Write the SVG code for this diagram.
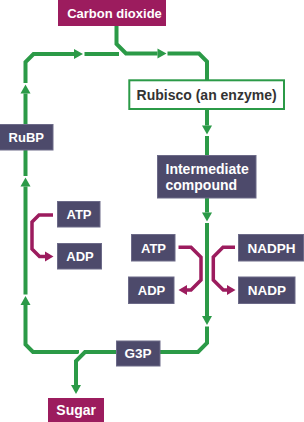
<svg xmlns="http://www.w3.org/2000/svg" width="304" height="422" viewBox="0 0 304 422">
<style>
.bg{fill:#ffffff}
.dk{fill:#4d4a6b;stroke:#6c6a88;stroke-width:1}
.mg{fill:#9c1c5e}
.rub{fill:#ffffff;stroke:#2b9a47;stroke-width:2}
.g{fill:none;stroke:#2b9a47;stroke-width:4;stroke-linejoin:miter}
.gw{fill:none;stroke:#ffffff;stroke-width:7}
.m{fill:none;stroke:#9c1c5e;stroke-width:3.5;stroke-linejoin:miter}
text{font-family:"Liberation Sans",Arial,sans-serif;font-weight:bold;font-size:13.5px;fill:#ffffff;text-anchor:middle}
.t13{font-size:13px}
.t14{font-size:14px}
.dt{fill:#333333}
.left{text-anchor:start}
</style>
<defs>
<marker id="ag" markerUnits="userSpaceOnUse" markerWidth="10" markerHeight="11" refX="0" refY="5" orient="auto" overflow="visible">
<path d="M0,0 L9,5 L0,10 Z" fill="#2b9a47"/>
</marker>
<marker id="am" markerUnits="userSpaceOnUse" markerWidth="10" markerHeight="11" refX="0" refY="5" orient="auto" overflow="visible">
<path d="M0,0 L8.5,5 L0,10 Z" fill="#9c1c5e"/>
</marker>
</defs>
<rect class="bg" x="0" y="0" width="304" height="422"/>
<g id="connectors">
<path class="g" d="M79,352 H33 L25.5,344.5 V305" marker-end="url(#ag)"/>
<path class="g" d="M25.5,294.5 V186.5" marker-end="url(#ag)"/>
<path class="g" d="M25.5,176 V93.5" marker-end="url(#ag)"/>
<path class="g" d="M25.5,83 V62 L33.5,54 H74" marker-end="url(#ag)"/>
<path class="g" d="M84.5,54 H119"/>
<path class="gw" d="M116.5,40 V44 L125.5,53.5"/>
<path class="g" d="M116.5,26 V44 L126,53.5 H157.5" marker-end="url(#ag)"/>
<path class="g" d="M167.5,53.5 H199 L207,61.5 V80"/>
<path class="g" d="M207,110 V125.5" marker-end="url(#ag)"/>
<path class="g" d="M207,136 V155"/>
<path class="g" d="M207,198 V212.5" marker-end="url(#ag)"/>
<path class="g" d="M207,223 V316" marker-end="url(#ag)"/>
<path class="g" d="M207,326.5 V343 L198,352 H160"/>
<path class="gw" d="M85,352 L76,361"/>
<path class="g" d="M116,352 H85 L76,361 V385" marker-end="url(#ag)"/>
<path class="m" d="M53,215 H39 L32,222 V249 L39.5,256.5 H45" marker-end="url(#am)"/>
<path class="m" d="M178.5,247.3 H191 L201,257.3 V280 L191,290 H187" marker-end="url(#am)"/>
<path class="m" d="M235,247.3 H223 L213.3,257 V280 L223.3,290 H227" marker-end="url(#am)"/>
</g>
<g id="carbon-dioxide"><rect class="mg" x="58" y="0" width="108" height="26"/><text class="t13" x="114.5" y="18">Carbon dioxide</text></g>
<g id="rubisco"><rect class="rub" x="129.3" y="80.3" width="154.7" height="28.7"/><text class="t14 dt" x="206.6" y="99.5">Rubisco (an enzyme)</text></g>
<g id="rubp"><rect class="dk" x="-1" y="124.5" width="54" height="25.5"/><text class="t13" x="26.3" y="141.5">RuBP</text></g>
<g id="atp-left"><rect class="dk" x="57.5" y="201.5" width="42.5" height="25.5"/><text class="t13" x="79" y="219">ATP</text></g>
<g id="adp-left"><rect class="dk" x="57.5" y="243.5" width="44" height="25.5"/><text class="t13" x="80" y="261">ADP</text></g>
<g id="intermediate"><rect class="dk" x="157.5" y="155.5" width="98.5" height="42.5"/><text class="t14 left" x="165.5" y="173.5">Intermediate</text><text class="t14 left" x="165.5" y="189.5">compound</text></g>
<g id="atp-right"><rect class="dk" x="131.5" y="234.5" width="43.5" height="26.5"/><text class="t13" x="153.5" y="252.5">ATP</text></g>
<g id="nadph"><rect class="dk" x="238.5" y="234.5" width="65" height="26.5"/><text x="271.5" y="252.5">NADPH</text></g>
<g id="adp-right"><rect class="dk" x="128.5" y="277" width="45.5" height="26.5"/><text class="t13" x="151.5" y="295">ADP</text></g>
<g id="nadp"><rect class="dk" x="238.5" y="277" width="56.5" height="26.5"/><text x="266.8" y="295">NADP</text></g>
<g id="g3p"><rect class="dk" x="116.5" y="341" width="43.5" height="25"/><text x="138" y="358">G3P</text></g>
<g id="sugar"><rect class="mg" x="48" y="398" width="56" height="24"/><text class="t14" x="76.2" y="414.5">Sugar</text></g>
</svg>
